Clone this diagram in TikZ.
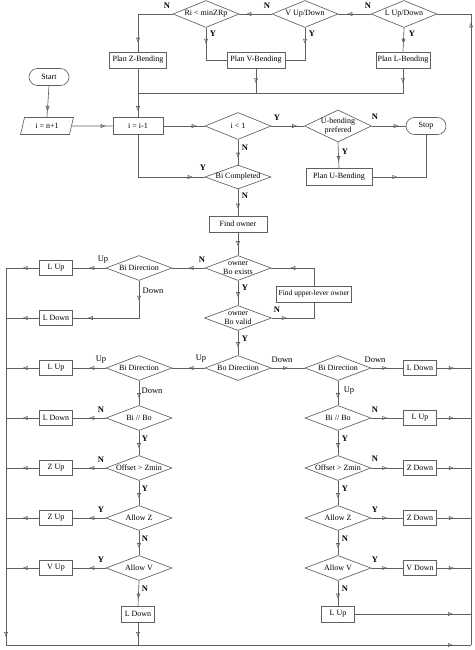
\documentclass[tikz,border=0pt]{standalone}
\usepackage{fontspec}
\setmainfont{Liberation Serif}
\usetikzlibrary{shapes.geometric,shapes.misc,arrows.meta,decorations.markings}
\definecolor{lc}{HTML}{606060}
\begin{document}
\begin{tikzpicture}[x=1pt,y=-1pt,
  every node/.style={font=\fontsize{8}{9.2}\selectfont, text=black},
  box/.style={draw=lc, line width=0.65pt, fill=white, minimum height=16pt, inner sep=1pt},
  dia/.style={diamond, draw=lc, line width=0.65pt, fill=white, minimum width=66pt, minimum height=25pt, inner sep=0pt},
  term/.style={rounded rectangle, draw=lc, line width=0.65pt, minimum width=42pt, minimum height=17pt, inner sep=1pt},
  io/.style={trapezium, trapezium left angle=73, trapezium right angle=107, trapezium stretches=true, draw=lc, line width=0.65pt, minimum width=53pt, minimum height=17pt, inner sep=1pt},
  lk/.style={draw=lc, line width=0.65pt},
  ar/.style={postaction={decorate, decoration={markings, mark=at position #1 with {\arrow{Triangle[open, length=5pt, width=3.8pt, line width=0.6pt]}}}}},
  yn/.style={font=\fontsize{8.5}{9}\selectfont\bfseries},
  ud/.style={font=\fontsize{8.5}{9}\selectfont},
]
\useasboundingbox (0,0) rectangle (474,650);

% ---------- top row ----------
\node[dia, minimum height=27pt, label=center:{Ri < minZRp}] (dri) at (206,14) {};
\node[dia, minimum height=27pt, label=center:{V Up/Down}] (dv) at (305,14) {};
\node[dia, minimum height=27pt, label=center:{L Up/Down}] (dl) at (404,14) {};
\node[box, minimum width=57pt] (bz) at (138,60) {Plan Z-Bending};
\node[box, minimum width=58pt] (bv) at (256,60) {Plan V-Bending};
\node[box, minimum width=54pt] (bl) at (403,60) {Plan L-Bending};
\coordinate (j1) at (138,93);

% ---------- start / loop ----------
\node[term] (start) at (49,77) {Start};
\node[io] (para) at (47,126) {i = n+1};
\node[box, minimum width=50pt, minimum height=17pt] (bii) at (138,126) {i = i-1};
\node[dia, minimum height=27pt, label=center:{i < 1}] (di1) at (238,126) {};
\node[dia, minimum width=67pt, minimum height=32pt, label={[align=center]center:{U-bending\\prefered}}] (du) at (338,126) {};
\node[term] (stop) at (426,126) {Stop};
\node[box, minimum width=66pt, minimum height=17pt] (bu) at (339,177) {Plan U-Bending};
\node[dia, minimum height=24pt, label=center:{Bi Completed}] (dbc) at (238,177) {};
\node[box, minimum width=58pt] (bfo) at (238,224) {Find owner};
\node[dia, label={[align=center]center:{owner\\Bo exists}}] (doe) at (238,268) {};
\node[dia, minimum width=67pt, label={[align=center]center:{owner\\Bo valid}}] (dov) at (238,318) {};
\node[box, minimum width=75pt, inner sep=0.5pt, font=\fontsize{7.5}{9}\selectfont] (bfu) at (314,294) {Find upper-lever owner};
\node[dia, label=center:{Bo Direction}] (dbo) at (238,368) {};

% ---------- upper-left ----------
\node[dia, label=center:{Bi Direction}] (dbi1) at (139,268) {};
\node[box, minimum width=33pt, minimum height=15pt] (blu1) at (56,268) {L Up};
\node[box, minimum width=33pt, minimum height=15pt] (bld1) at (56,318) {L Down};

% ---------- left column ----------
\node[dia, label=center:{Bi Direction}] (dbi2) at (139,368) {};
\node[dia, label=center:{Bi // Bo}] (dp1) at (139,418) {};
\node[dia, label=center:{Offset > Zmin}] (do1) at (139,468) {};
\node[dia, label=center:{Allow Z}] (dz1) at (139,518) {};
\node[dia, label=center:{Allow V}] (dv1) at (139,568) {};
\node[box, minimum width=33pt, minimum height=15pt] (blu2) at (56,368) {L Up};
\node[box, minimum width=33pt, minimum height=15pt] (bld2) at (56,418) {L Down};
\node[box, minimum width=33pt, minimum height=15pt] (bzu1) at (56,468) {Z Up};
\node[box, minimum width=33pt, minimum height=15pt] (bzu2) at (56,518) {Z Up};
\node[box, minimum width=33pt, minimum height=15pt] (bvu) at (56,568) {V Up};
\node[box, minimum width=33pt] (bld3) at (138,614) {L Down};

% ---------- right column ----------
\node[dia, label=center:{Bi Direction}] (dbi3) at (338,368) {};
\node[dia, label=center:{Bi // Bo}] (dp2) at (338,418) {};
\node[dia, label=center:{Offset > Zmin}] (do2) at (338,468) {};
\node[dia, label=center:{Allow Z}] (dz2) at (338,518) {};
\node[dia, label=center:{Allow V}] (dv2) at (338,568) {};
\node[box, minimum width=33pt, minimum height=15pt] (bld4) at (420,368) {L Down};
\node[box, minimum width=33pt, minimum height=15pt] (blu3) at (420,418) {L Up};
\node[box, minimum width=33pt, minimum height=15pt] (bzd1) at (420,468) {Z Down};
\node[box, minimum width=33pt, minimum height=15pt] (bzd2) at (420,518) {Z Down};
\node[box, minimum width=33pt, minimum height=15pt] (bvd) at (420,568) {V Down};
\node[box, minimum width=33pt] (blu4) at (338,614) {L Up};

% ---------- buses ----------
\coordinate (bLt) at (6,268);
\coordinate (bLb) at (6,645);
\coordinate (bRb) at (471,645);

% ---------- connectors: top ----------
\draw[lk, ar=-9pt] (dl.west) -- (dv.east);
\draw[lk, ar=-7pt] (dv.west) -- (dri.east);
\draw[lk, ar=-9pt] (dri.west) -| (bz.north);
\draw[lk, ar=16pt] (dri.south) |- (bv.west);
\draw[lk, ar=16pt] (dv.south) |- (bv.east);
\draw[lk, ar=-8pt] (dl.south) -- (bl.north);
\draw[lk, ar=15pt] (bl.south) |- (j1);
\draw[lk, ar=15pt] (bv.south) -- (bv.south |- j1);
\draw[lk, ar=-6pt] (bz.south) -- (bii.north);

\node[yn] (n1) at (368,6) {N};
\node[yn] (n2) at (267,6) {N};
\node[yn] (n3) at (167,6) {N};
\node[yn] (y1) at (213,34) {Y};
\node[yn] (y2) at (312,34) {Y};
\node[yn] (y3) at (412,34) {Y};

% ---------- connectors: loop ----------
\draw[lk, ar=-6pt] (start.south) -- (para.north);
\draw[lk, ar=-7pt] (para.east) -- (bii.west);
\draw[lk, ar=-8pt] (bii.east) -- (di1.west);
\draw[lk, ar=-7pt] (di1.east) -- (du.west);
\draw[lk, ar=-7pt] (du.east) -- (stop.west);
\draw[lk, ar=-7pt] (du.south) -- (bu.north);
\draw[lk, ar=25pt] (bu.east) -| (stop.south);
\draw[lk, ar=-7pt] (di1.south) -- (dbc.north);
\draw[lk, ar=-12pt] (bii.south) |- (dbc.west);
\draw[lk, ar=-7pt] (dbc.south) -- (bfo.north);
\draw[lk, ar=-9pt] (bfo.south) -- (doe.north);
\draw[lk, ar=-8pt] (doe.south) -- (dov.north);
\draw[lk, ar=15pt] (dov.east) -| (bfu.south);
\draw[lk, ar=-19pt] (bfu.north) |- (doe.east);
\draw[lk, ar=-8pt] (dov.south) -- (dbo.north);

\node[yn] (y4) at (277,118) {Y};
\node[yn] (n4) at (375,117) {N};
\node[yn] (y5) at (345,152) {Y};
\node[yn] (n5) at (245,148) {N};
\node[yn] (y6) at (203,168) {Y};
\node[yn] (n6) at (245,196) {N};
\node[yn] (y7) at (245,288) {Y};
\node[yn] (n7) at (277,310) {N};
\node[yn] (y8) at (245,339) {Y};

% ---------- upper-left ----------
\draw[lk, ar=0.5] (doe.west) -- (dbi1.east);
\draw[lk, ar=0.5] (dbi1.west) -- (blu1.east);
\draw[lk, ar=0.5] (blu1.west) -- (bLt);
\draw[lk, ar=20pt, ar=-15pt] (dbi1.south) |- (bld1.east);
\draw[lk, ar=0.5] (bld1.west) -- (bld1.west -| bLt);
\node[yn] (n8) at (202,260) {N};
\node[ud] (u1) at (103,260) {Up};
\node[ud] (dn1) at (153,291) {Down};

% ---------- Bo direction ----------
\draw[lk, ar=0.5] (dbo.west) -- (dbi2.east);
\draw[lk, ar=0.5] (dbo.east) -- (dbi3.west);
\node[ud] (u2) at (201,359) {Up};
\node[ud] (dn2) at (282,360) {Down};

% ---------- left column ----------
\draw[lk, ar=0.5] (dbi2.west) -- (blu2.east);
\draw[lk, ar=0.5] (dp1.west) -- (bld2.east);
\draw[lk, ar=0.5] (do1.west) -- (bzu1.east);
\draw[lk, ar=0.5] (dz1.west) -- (bzu2.east);
\draw[lk, ar=0.5] (dv1.west) -- (bvu.east);
\draw[lk, ar=0.5] (blu2.west) -- (blu2.west -| bLt);
\draw[lk, ar=0.5] (bld2.west) -- (bld2.west -| bLt);
\draw[lk, ar=0.5] (bzu1.west) -- (bzu1.west -| bLt);
\draw[lk, ar=0.5] (bzu2.west) -- (bzu2.west -| bLt);
\draw[lk, ar=0.5] (bvu.west) -- (bvu.west -| bLt);
\draw[lk, ar=-7pt] (dbi2.south) -- (dp1.north);
\draw[lk, ar=-7pt] (dp1.south) -- (do1.north);
\draw[lk, ar=-7pt] (do1.south) -- (dz1.north);
\draw[lk, ar=-7pt] (dz1.south) -- (dv1.north);
\draw[lk, ar=-7pt] (dv1.south) -- (bld3.north);
\draw[lk, ar=-8pt] (bld3.south) -- (bld3.south |- bLb);

\node[ud] (u3) at (101,360) {Up};
\node[ud] (dn3) at (152,391) {Down};
\node[yn] (n9) at (101,410) {N};
\node[yn] (y9) at (145,439) {Y};
\node[yn] (n10) at (101,460) {N};
\node[yn] (y10) at (145,489) {Y};
\node[yn] (y11) at (101,510) {Y};
\node[yn] (n11) at (145,539) {N};
\node[yn] (y12) at (101,560) {Y};
\node[yn] (n12) at (145,589) {N};

% ---------- right column ----------
\draw[lk, ar=0.5] (dbi3.east) -- (bld4.west);
\draw[lk, ar=0.5] (dp2.east) -- (blu3.west);
\draw[lk, ar=0.5] (do2.east) -- (bzd1.west);
\draw[lk, ar=0.5] (dz2.east) -- (bzd2.west);
\draw[lk, ar=0.5] (dv2.east) -- (bvd.west);
\draw[lk, ar=0.5] (bld4.east) -- (bld4.east -| bRb);
\draw[lk, ar=0.5] (blu3.east) -- (blu3.east -| bRb);
\draw[lk, ar=0.5] (bzd1.east) -- (bzd1.east -| bRb);
\draw[lk, ar=0.5] (bzd2.east) -- (bzd2.east -| bRb);
\draw[lk, ar=0.5] (bvd.east) -- (bvd.east -| bRb);
\draw[lk, ar=-7pt] (dbi3.south) -- (dp2.north);
\draw[lk, ar=-7pt] (dp2.south) -- (do2.north);
\draw[lk, ar=-7pt] (do2.south) -- (dz2.north);
\draw[lk, ar=-7pt] (dz2.south) -- (dv2.north);
\draw[lk, ar=-7pt] (dv2.south) -- (blu4.north);
\draw[lk, ar=-18pt] (blu4.east) -- (blu4.east -| bRb);

\node[ud] (dn4) at (375,360) {Down};
\node[ud] (u4) at (349,391) {Up};
\node[yn] (n13) at (375,410) {N};
\node[yn] (y13) at (345,439) {Y};
\node[yn] (n14) at (375,459) {N};
\node[yn] (y14) at (345,489) {Y};
\node[yn] (y15) at (375,510) {Y};
\node[yn] (n15) at (345,539) {N};
\node[yn] (y16) at (375,560) {Y};
\node[yn] (n16) at (345,589) {N};

% ---------- buses ----------
\draw[lk, ar=-8pt] (bLt) -- (bLb);
\draw[lk, ar=-18pt] (bLb) -- (bRb);
\draw[lk, ar=-42pt] (bRb) |- (dl.east);
\end{tikzpicture}
\end{document}
